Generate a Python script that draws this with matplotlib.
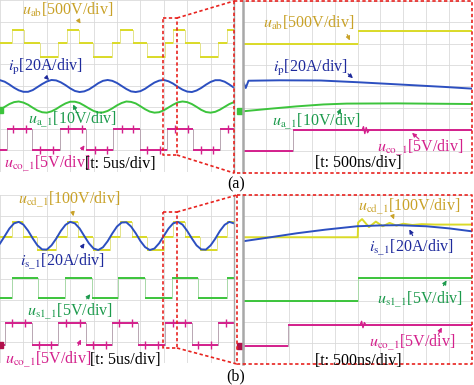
import numpy as np
import matplotlib.pyplot as plt

plt.rcParams['font.family'] = ['Liberation Serif', 'DejaVu Serif']
plt.rcParams['mathtext.fontset'] = 'stix'

W, H = 474, 385

YEL = '#dada28'
YEL_TXT = '#c9a228'
BLU = '#2c4fc0'
BLU_TXT = '#1e2a9c'
GRN = '#3cc43c'
GRN_TXT = '#1c9a4c'
MAG = '#d4208c'
RED = '#e8231f'

# ---- panel (a), 5us/div view (time in us, level in divisions from bottom)
t_us = np.arange(51)
ab_t = [0, 2.56, 5.13, 8.55, 12.4, 14.3, 16.9, 19.9, 23.9, 25.6, 28.4, 31.4, 35.3, 37.0, 39.5, 42.7, 46.6, 48.5, 50]
ab_v = [6.0, 6.6, 6.0, 5.35, 6.0, 6.6, 6.0, 5.35, 6.0, 6.6, 6.0, 5.35, 6.0, 6.6, 6.0, 5.35, 6.0, 6.6, 6.6]
ip_v = [4.27, 4.20, 4.07, 3.92, 3.80, 3.73, 3.73, 3.81, 3.95, 4.09, 4.21, 4.28, 4.26, 4.17, 4.04, 3.89, 3.77,
        3.72, 3.75, 3.84, 3.98, 4.13, 4.24, 4.28, 4.24, 4.14, 4.00, 3.86, 3.75, 3.72, 3.76, 3.87, 4.02, 4.16,
        4.25, 4.28, 4.22, 4.11, 3.96, 3.83, 3.74, 3.72, 3.79, 3.91, 4.06, 4.19, 4.27, 4.27, 4.20, 4.07, 3.92]
ua_v = [2.90, 3.03, 3.16, 3.25, 3.28, 3.23, 3.13, 2.99, 2.86, 2.78, 2.76, 2.82, 2.93, 3.07, 3.19, 3.27, 3.27,
        3.21, 3.09, 2.96, 2.84, 2.77, 2.77, 2.84, 2.96, 3.10, 3.21, 3.28, 3.26, 3.19, 3.06, 2.92, 2.81, 2.76,
        2.78, 2.87, 3.00, 3.13, 3.24, 3.28, 3.25, 3.16, 3.03, 2.89, 2.79, 2.76, 2.80, 2.90, 3.03, 3.16, 3.25]
coa_t = [0, 1.5, 6.84, 12.8, 18.4, 24.1, 29.9, 35.7, 41.2, 47.0, 50]
coa_v = [1.02, 2.0, 1.02, 2.0, 1.02, 2.0, 1.02, 2.0, 1.02, 2.0, 2.0]
coa_spikes = [2.8, 5.6, 8.5, 11.3, 14.5, 17.5, 20.3, 22.9, 26.1, 28.4, 31.4, 34.2, 37.4, 40.2, 42.9, 45.5, 48.7]

# ---- panel (a), 500ns/div view (time in ns)
abz_t = [0, 2511, 5000]
abz_v = [6.0, 6.6, 6.6]
ipz_t = [0, 60, 120, 800, 1700, 2500, 3200, 3800, 4400, 5000]
ipz_v = [4.25, 3.93, 4.27, 4.29, 4.28, 4.20, 4.12, 4.05, 3.98, 3.90]
uaz_t = [0, 590, 1170, 1755, 2260, 3360, 5000]
uaz_v = [2.84, 2.96, 3.07, 3.16, 3.20, 3.21, 3.18]
coaz_t = [0, 1092, 5000]
coaz_v = [0.98, 1.95, 1.95]
coaz_burst_t = [2600, 2630, 2660, 2690, 2720, 2750]
coaz_burst_v = [1.95, 2.12, 1.80, 2.08, 1.84, 1.95]

# ---- panel (b), 5us/div view
cd_t = [0, 2.56, 4.9, 8.0, 12.0, 14.3, 16.7, 19.9, 23.5, 25.6, 28.2, 31.4, 35.0, 37.0, 39.5, 42.7, 46.4, 48.5, 50]
cd_v = [6.0, 6.71, 6.0, 5.38, 6.0, 6.71, 6.0, 5.38, 6.0, 6.71, 6.0, 5.38, 6.0, 6.71, 6.0, 5.38, 6.0, 6.71, 6.71]
is_v = [5.69, 6.04, 6.40, 6.65, 6.72, 6.59, 6.30, 5.93, 5.60, 5.41, 5.40, 5.60, 5.92, 6.29, 6.58, 6.72, 6.65,
        6.41, 6.05, 5.70, 5.45, 5.38, 5.51, 5.80, 6.17, 6.50, 6.69, 6.70, 6.50, 6.18, 5.81, 5.52, 5.38, 5.45,
        5.70, 6.05, 6.40, 6.65, 6.72, 6.59, 6.29, 5.93, 5.60, 5.41, 5.40, 5.60, 5.92, 6.29, 6.58, 6.72, 6.65]
s1_t = [0, 2.56, 8.12, 13.9, 19.7, 25.2, 31.0, 36.8, 42.3, 48.5, 50]
s1_v = [3.1, 4.05, 3.1, 4.05, 3.1, 4.05, 3.1, 4.05, 3.1, 4.05, 4.05]
cob_t = [0, 1.07, 6.84, 12.4, 18.4, 23.9, 29.5, 35.3, 41.0, 46.6, 50]
cob_v = [0.86, 1.9, 0.86, 1.9, 0.86, 1.9, 0.86, 1.9, 0.86, 1.9, 1.9]
cob_spikes = [2.6, 5.4, 8.3, 11.0, 14.0, 17.0, 19.9, 22.6, 25.4, 28.2, 31.0, 33.8, 36.9, 39.6, 42.4, 45.1, 48.2]

# ---- panel (b), 500ns/div view
cdz_t = [0, 2505, 2515, 2600, 2750, 2900, 3050, 3200, 3350, 3500, 3700, 3900, 4200, 5000]
cdz_v = [6.0, 6.0, 6.70, 6.86, 6.48, 6.74, 6.52, 6.68, 6.55, 6.64, 6.58, 6.62, 6.60, 6.60]
isz_t = [0, 600, 1180, 1800, 2490, 3000, 3400, 4000, 4500, 5000]
isz_v = [5.81, 6.00, 6.19, 6.36, 6.52, 6.56, 6.57, 6.52, 6.42, 6.28]
s1z_t = [0, 2511, 5000]
s1z_v = [3.0, 4.05, 4.05]
cobz_t = [0, 983, 5000]
cobz_v = [0.86, 1.86, 1.86]
cobz_burst_t = [2560, 2590, 2620, 2650, 2680]
cobz_burst_v = [1.86, 2.02, 1.72, 1.96, 1.86]

fig = plt.figure(figsize=(W / 100, H / 100), dpi=100)


def view(x0, y0, x1, y1, tmax, edge):
    ax = fig.add_axes([x0 / W, 1 - y1 / H, (x1 - x0) / W, (y1 - y0) / H])
    ax.set_xlim(0, tmax)
    ax.set_ylim(0, 8)
    ax.set_xticks(np.linspace(0, tmax, 11))
    ax.set_yticks(range(9))
    ax.grid(color='#dadada', lw=0.6)
    ax.tick_params(length=0, labelbottom=False, labelleft=False)
    for name, s in ax.spines.items():
        s.set_visible(name == edge)
        s.set_color('#a8a8a8')
        s.set_linewidth(1.0 if edge == 'right' else 1.8)
    return ax


lw = 1.4


def square(ax, t, v, c, edge_c):
    # fast edges come out faint on the scope, flat parts thick
    ax.step(t, v, where='post', color=edge_c, lw=0.7)
    ax.hlines(v[:-1], t[:-1], t[1:], color=c, lw=lw)


def spikes(ax, t, v, ts, c):
    lev = np.array(v)[np.searchsorted(t, ts, side='right') - 1]
    ax.plot(ts, lev, '|', color=c, ms=6, mew=1.0)


a1 = view(0, 0, 234, 172, 50, 'right')
square(a1, ab_t, ab_v, YEL, '#e4e48a')
a1.plot(t_us, ip_v, color=BLU, lw=lw)
a1.plot(t_us, ua_v, color=GRN, lw=lw)
square(a1, coa_t, coa_v, MAG, '#b8a6b2')
spikes(a1, coa_t, coa_v, coa_spikes, MAG)
a1.plot([0], [ua_v[0]], 's', color=GRN, ms=4, clip_on=False)

a2 = view(243, 1, 472, 172, 5000, 'left')
square(a2, abz_t, abz_v, YEL, '#e4e48a')
a2.plot(ipz_t, ipz_v, color=BLU, lw=lw)
a2.plot(uaz_t, uaz_v, color=GRN, lw=lw)
square(a2, coaz_t, coaz_v, MAG, '#b8a6b2')
a2.plot(coaz_burst_t, coaz_burst_v, color=MAG, lw=1.0)
a2.plot([-60], [uaz_v[0]], 's', color=GRN, ms=5, clip_on=False)

b1 = view(0, 195, 234, 363, 50, 'right')
square(b1, cd_t, cd_v, YEL, '#e4e48a')
b1.plot(t_us, is_v, color=BLU, lw=lw)
square(b1, s1_t, s1_v, GRN, '#a8d8a8')
square(b1, cob_t, cob_v, MAG, '#b8a6b2')
spikes(b1, cob_t, cob_v, cob_spikes, MAG)
b1.plot([0], [cob_v[0]], 's', color='#b0104a', ms=4, clip_on=False)

b2 = view(243, 195, 472, 364, 5000, 'left')
b2.plot(cdz_t, cdz_v, color=YEL, lw=lw)
b2.plot(isz_t, isz_v, color=BLU, lw=lw)
square(b2, s1z_t, s1z_v, GRN, '#a8d8a8')
square(b2, cobz_t, cobz_v, MAG, '#b8a6b2')
b2.plot(cobz_burst_t, cobz_burst_v, color=MAG, lw=1.0)
b2.plot([-60], [cobz_v[0]], 's', color='#b0104a', ms=5, clip_on=False)

# overlay in pixel coordinates for labels, arrows and zoom boxes
ov = fig.add_axes([0, 0, 1, 1])
ov.set_xlim(0, W)
ov.set_ylim(H, 0)
ov.axis('off')
ov.patch.set_alpha(0)

fs = 11.5


def label(x, y, s, c, ax0=None, ax1=None):
    ov.text(x, y, s, color=c, fontsize=fs, va='center', ha='left')
    if ax0 is not None:
        ov.annotate('', xy=ax1, xytext=ax0,
                    arrowprops=dict(arrowstyle='-|>', color=c, lw=0.8, mutation_scale=6))


# (a) 5us view
label(22, 10, r'$u_{\mathrm{ab}}$[500V/div]', YEL_TXT, (77, 18), (82, 26))
label(8, 67, r'$i_{\mathrm{p}}$[20A/div]', BLU_TXT, (45, 76), (51, 82))
label(28, 120, r'$u_{\mathrm{a\_1}}$[10V/div]', GRN_TXT, (78, 115), (72, 102))
label(4, 164, r'$u_{\mathrm{co\_1}}$[5V/div]', MAG, (80, 152), (86, 143))
label(85, 164, '[t: 5us/div]', 'black')
# (a) 500ns view
label(263, 23, r'$u_{\mathrm{ab}}$[500V/div]', YEL_TXT, (346, 32), (351, 43))
label(273, 68, r'$i_{\mathrm{p}}$[20A/div]', BLU_TXT, (346, 72), (355, 80))
label(272, 122, r'$u_{\mathrm{a\_1}}$[10V/div]', GRN_TXT, (337, 117), (342, 106))
label(377, 148, r'$u_{\mathrm{co\_1}}$[5V/div]', MAG, (421, 141), (410, 131))
label(315, 163, '[t: 500ns/div]', 'black')
# (b) 5us view
label(18, 200, r'$u_{\mathrm{cd\_1}}$[100V/div]', YEL_TXT, (72, 209), (74, 219))
label(20, 262, r'$i_{\mathrm{s\_1}}$[20A/div]', BLU_TXT, (80, 250), (86, 241))
label(27, 312, r'$u_{\mathrm{s1\_1}}$[5V/div]', GRN_TXT, (85, 301), (92, 292))
label(5, 360, r'$u_{\mathrm{co\_1}}$[5V/div]', MAG, (77, 348), (82, 337))
label(90, 360, '[t: 5us/div]', 'black')
# (b) 500ns view
label(358, 207, r'$u_{\mathrm{cd\_1}}$[100V/div]', YEL_TXT, (392, 214), (395, 222))
label(369, 248, r'$i_{\mathrm{s\_1}}$[20A/div]', BLU_TXT, (414, 238), (408, 227))
label(377, 300, r'$u_{\mathrm{s1\_1}}$[5V/div]', GRN_TXT, (442, 288), (448, 278))
label(369, 343, r'$u_{\mathrm{co\_1}}$[5V/div]', MAG, (437, 337), (443, 325))
label(315, 361, '[t: 500ns/div]', 'black')

ov.text(236, 184, '(a)', fontsize=fs, ha='center', va='center')
ov.text(236, 376, '(b)', fontsize=fs, ha='center', va='center')

dash = dict(color=RED, lw=1.2, ls=(0, (2, 1.5)))
boxes = [
    ((163, 18, 177, 155), (234, 1, 472, 173)),
    ((163, 212, 177, 348), (237, 195, 472, 364)),
]
for (sx0, sy0, sx1, sy1), (bx0, by0, bx1, by1) in boxes:
    ov.plot([sx0, sx1, sx1, sx0, sx0], [sy0, sy0, sy1, sy1, sy0], **dash)
    ov.plot([bx0, bx1, bx1, bx0, bx0], [by0, by0, by1, by1, by0], **dash)
    ov.plot([sx1, bx0], [sy0, by0], **dash)
    ov.plot([sx1, bx0], [sy1, by1], **dash)

fig.savefig('out.png', dpi=100)
